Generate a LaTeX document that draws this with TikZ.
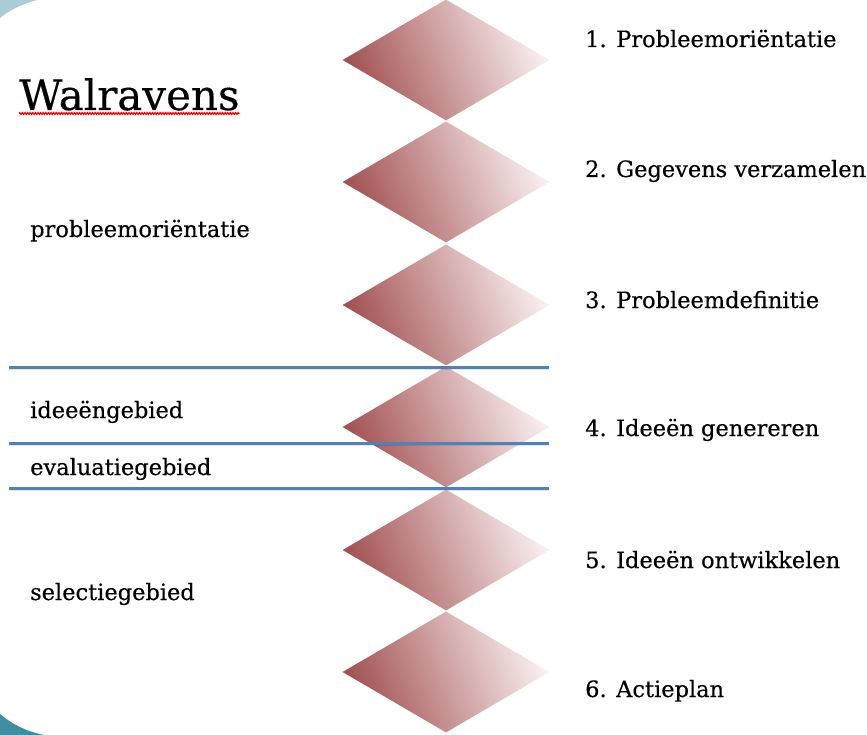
\documentclass[tikz,border=0pt]{standalone}
\usepackage{fontspec}
\setmainfont{DejaVu Serif}[FakeBold=0.35]
\usetikzlibrary{shapes.geometric,decorations.pathmorphing}
\definecolor{diadark}{RGB}{163,82,84}
\definecolor{dialight}{RGB}{249,238,238}
\definecolor{lineblue}{RGB}{79,129,189}
\definecolor{tealtop}{RGB}{170,204,214}
\definecolor{tealbot}{RGB}{62,142,160}
\tikzset{
  dia/.style={shape=diamond, inner sep=0pt, minimum width=207pt, minimum height=121pt,
    bottom color=diadark, top color=dialight, shading angle=-68},
  lbl/.style={anchor=base west, inner sep=0pt, font=\fontsize{22.5}{27}\selectfont, text=black},
  sep/.style={draw=lineblue, line width=3pt},
  sepshadow/.style={draw=black, opacity=0.1, line width=3pt},
}
\begin{document}
\begin{tikzpicture}[x=1pt, y=-1pt]
\useasboundingbox (0,0) rectangle (867,735);
\fill[white] (0,0) rectangle (867,735);
% corner decorations
\fill[tealtop] (0,0) -- (37,0) .. controls (22,4) and (8,11) .. (0,18) -- cycle;
\fill[tealbot] (0,735) -- (0,714) .. controls (12,724) and (25,731) .. (44,735) -- cycle;
% diamonds
\foreach \i/\y in {1/60,2/182,3/305,4/427,5/550,6/672}{
  \node[dia] (d\i) at (446,\y) {};
}
% separator lines
\foreach \i/\y in {1/367,2/443,3/488}{
  \coordinate (s\i a) at (9,\y);
  \coordinate (s\i b) at (549,\y);
  \draw[sepshadow] ([yshift=-1.2pt]s\i a) -- ([yshift=-1.2pt]s\i b);
  \draw[sep] (s\i a) -- (s\i b);
}
% title
\node[anchor=base west, inner sep=0pt, font=\fontsize{42}{48}\selectfont] (title) at (19,110) {Walravens};
\draw[red, line width=1.3pt, decorate, decoration={snake, amplitude=0.8pt, segment length=2.6pt}]
  ([yshift=-3.5pt]title.base west) -- ([yshift=-3.5pt]title.base east);
% left labels
\node[lbl] (l1) at (30,237) {probleemoriëntatie};
\node[lbl] (l2) at (30,418) {ideeëngebied};
\node[lbl] (l3) at (30,475) {evaluatiegebied};
\node[lbl] (l4) at (30,600) {selectiegebied};
% right labels
\node[lbl] (r1) at (585,47) {1. Probleemoriëntatie};
\node[lbl] (r2) at (585,177) {2. Gegevens verzamelen};
\node[lbl] (r3) at (585,308) {3. Probleemdefinitie};
\node[lbl] (r4) at (585,436) {4. Ideeën genereren};
\node[lbl] (r5) at (585,568) {5. Ideeën ontwikkelen};
\node[lbl] (r6) at (585,697) {6. Actieplan};
\end{tikzpicture}
\end{document}
